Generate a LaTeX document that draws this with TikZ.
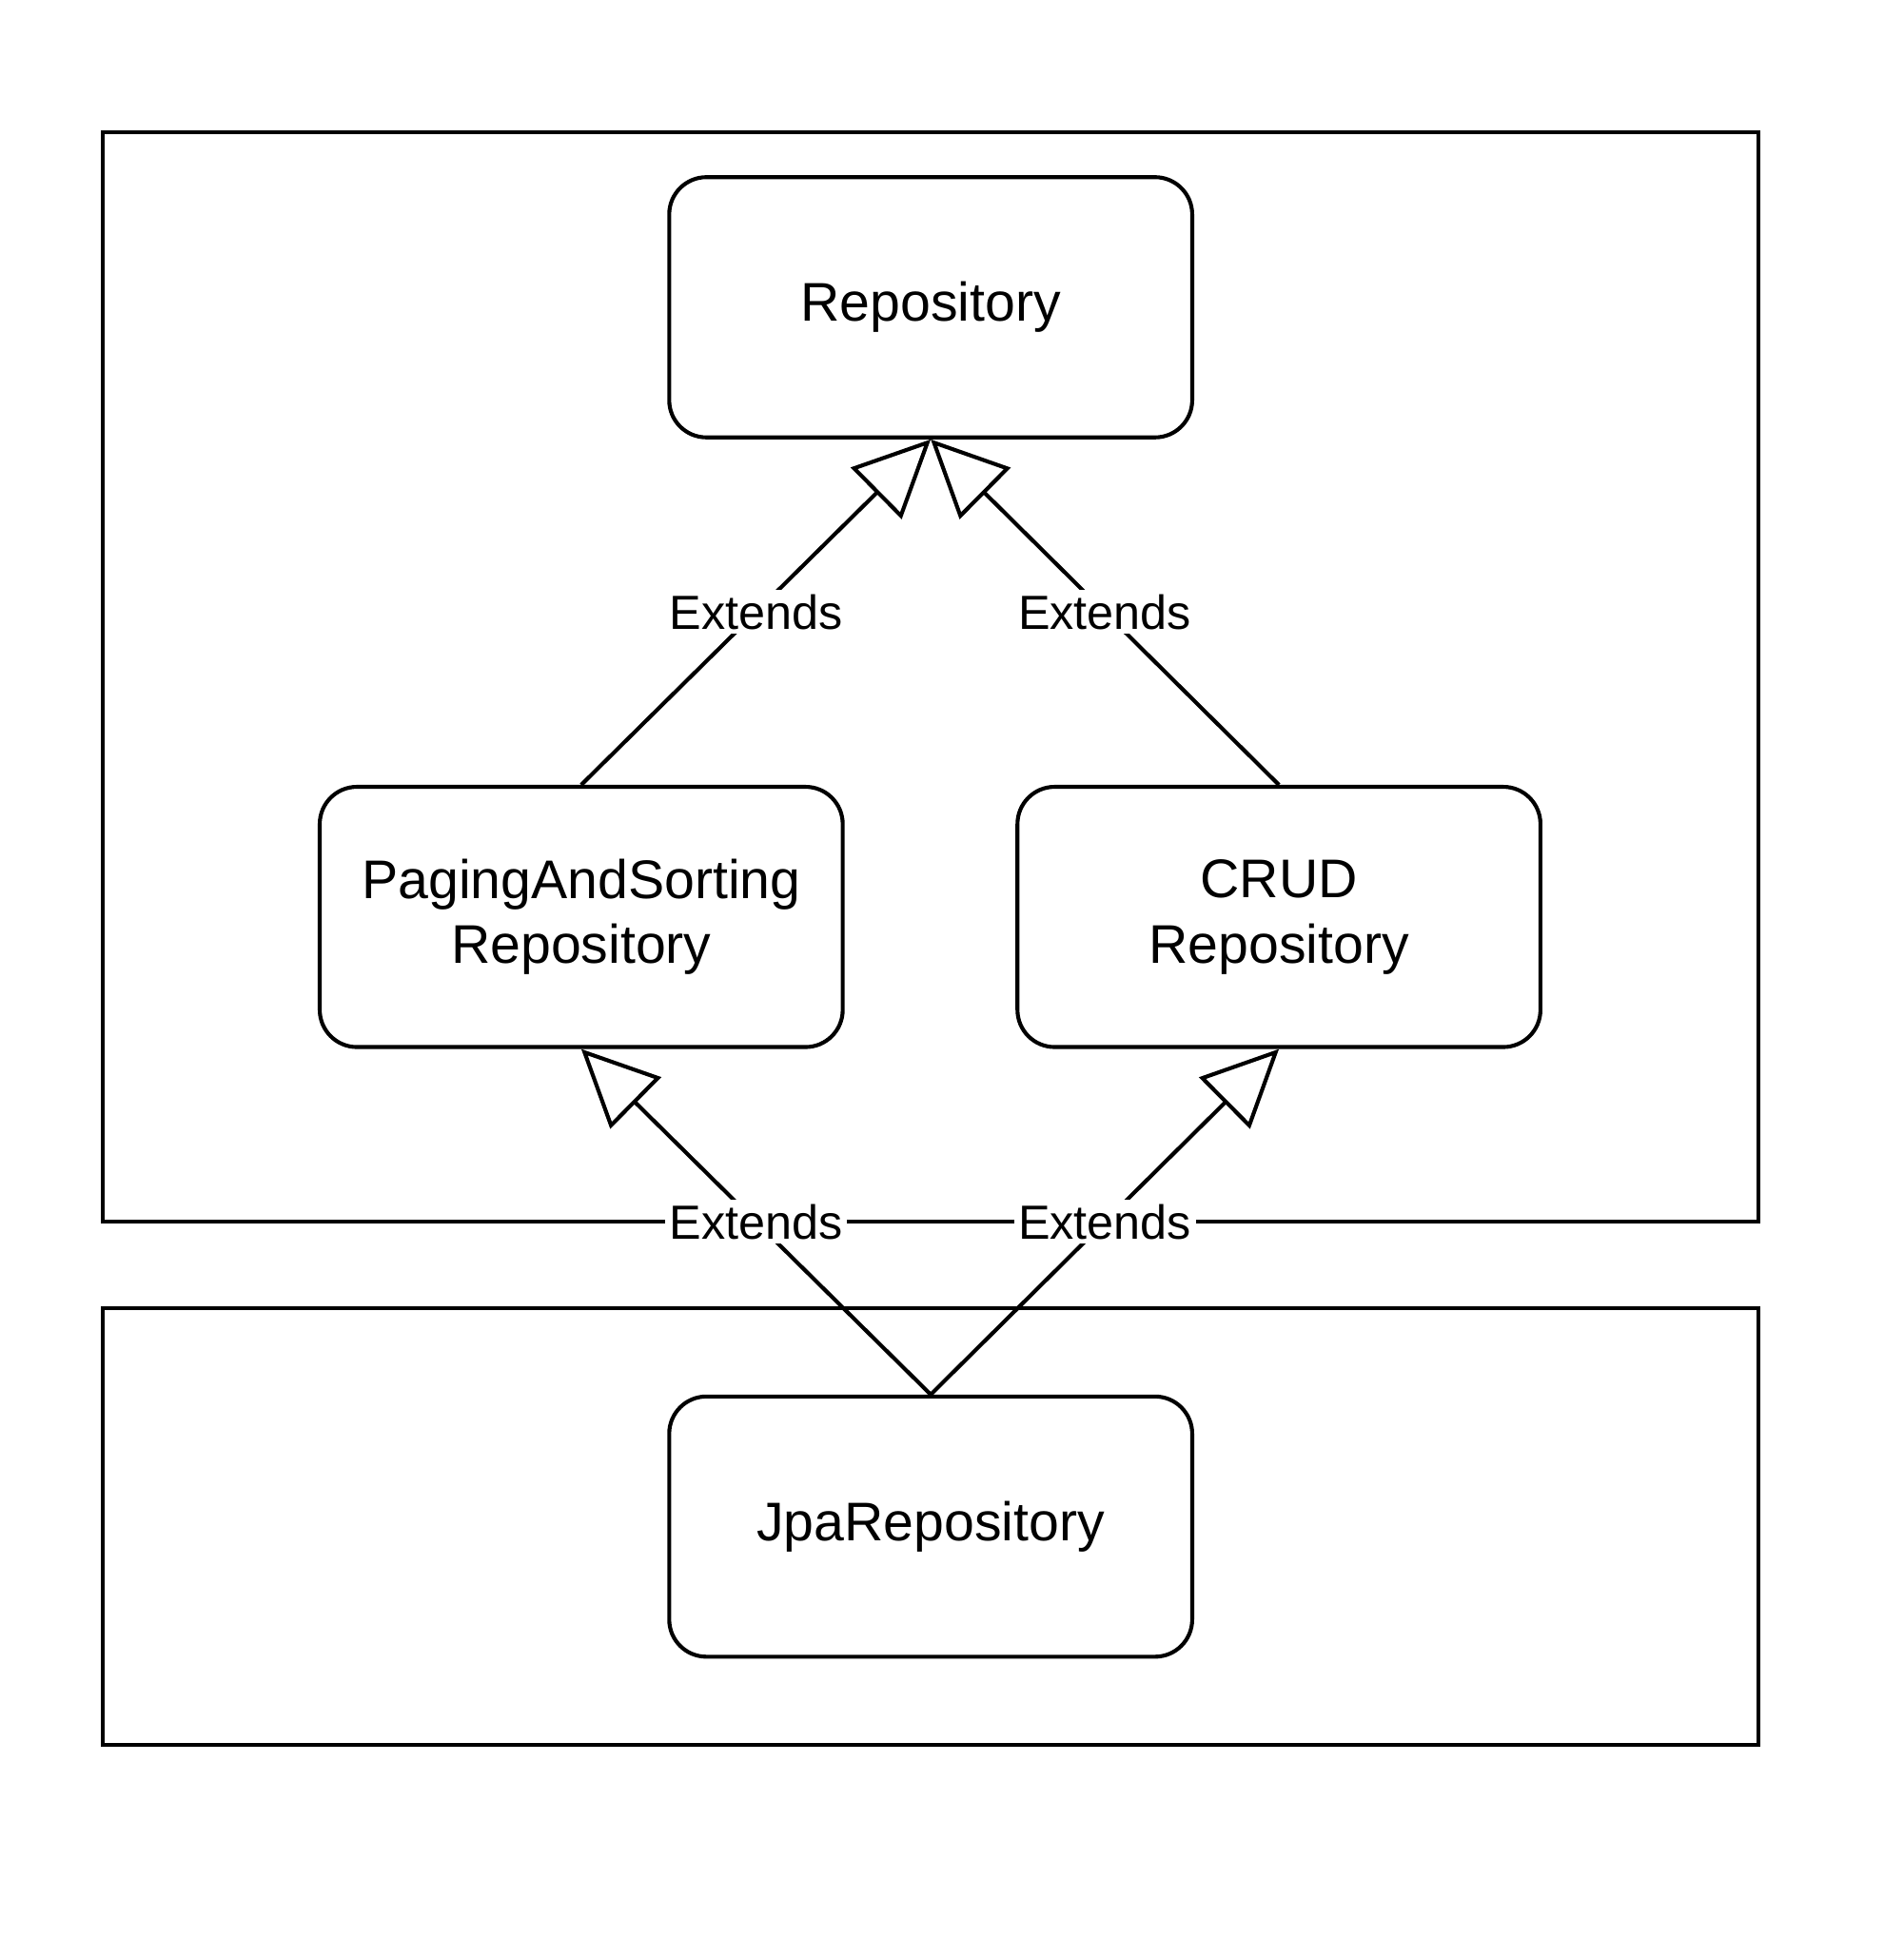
\documentclass[tikz,border=0pt]{standalone}
\usepackage{fontspec}
\setmainfont{Liberation Sans}
\usetikzlibrary{arrows.meta}

\begin{document}
\begin{tikzpicture}[line width=0.9pt,
    repo/.style ={rectangle, draw, rounded corners=0.3cm, minimum width=4.22cm, minimum height=2.1cm, align=center, font=\fontsize{12.5}{15}\selectfont},
    frame/.style ={draw},
    extends/.style ={-{Triangle[open, length=0.62cm, width=0.58cm]}},
    lbl/.style ={fill=white, inner sep=1pt, font=\fontsize{11}{13}\selectfont}]
   \useasboundingbox (0,0) rectangle (15.36,15.64);
   \draw[frame] (0.83,5.78) rectangle (14.19,14.57);
   \draw[frame] (0.83,1.56) rectangle (14.19,5.08);

   \node[repo] (R) at (7.51,13.16) {Repository};
   \node[repo] (P) at (4.69,8.24) {PagingAndSorting\\Repository};
   \node[repo] (C) at (10.32,8.24) {CRUD\\Repository};
   \node[repo] (J) at (7.51,3.32) {JpaRepository};

   \draw[extends] (P.north) -- node[lbl] {Extends} (R.south);
   \draw[extends] (C.north) -- node[lbl] {Extends} (R.south);
   \draw[extends] (J.north) -- node[lbl] {Extends} (P.south);
   \draw[extends] (J.north) -- node[lbl] {Extends} (C.south);
 \end{tikzpicture}
\end{document}
